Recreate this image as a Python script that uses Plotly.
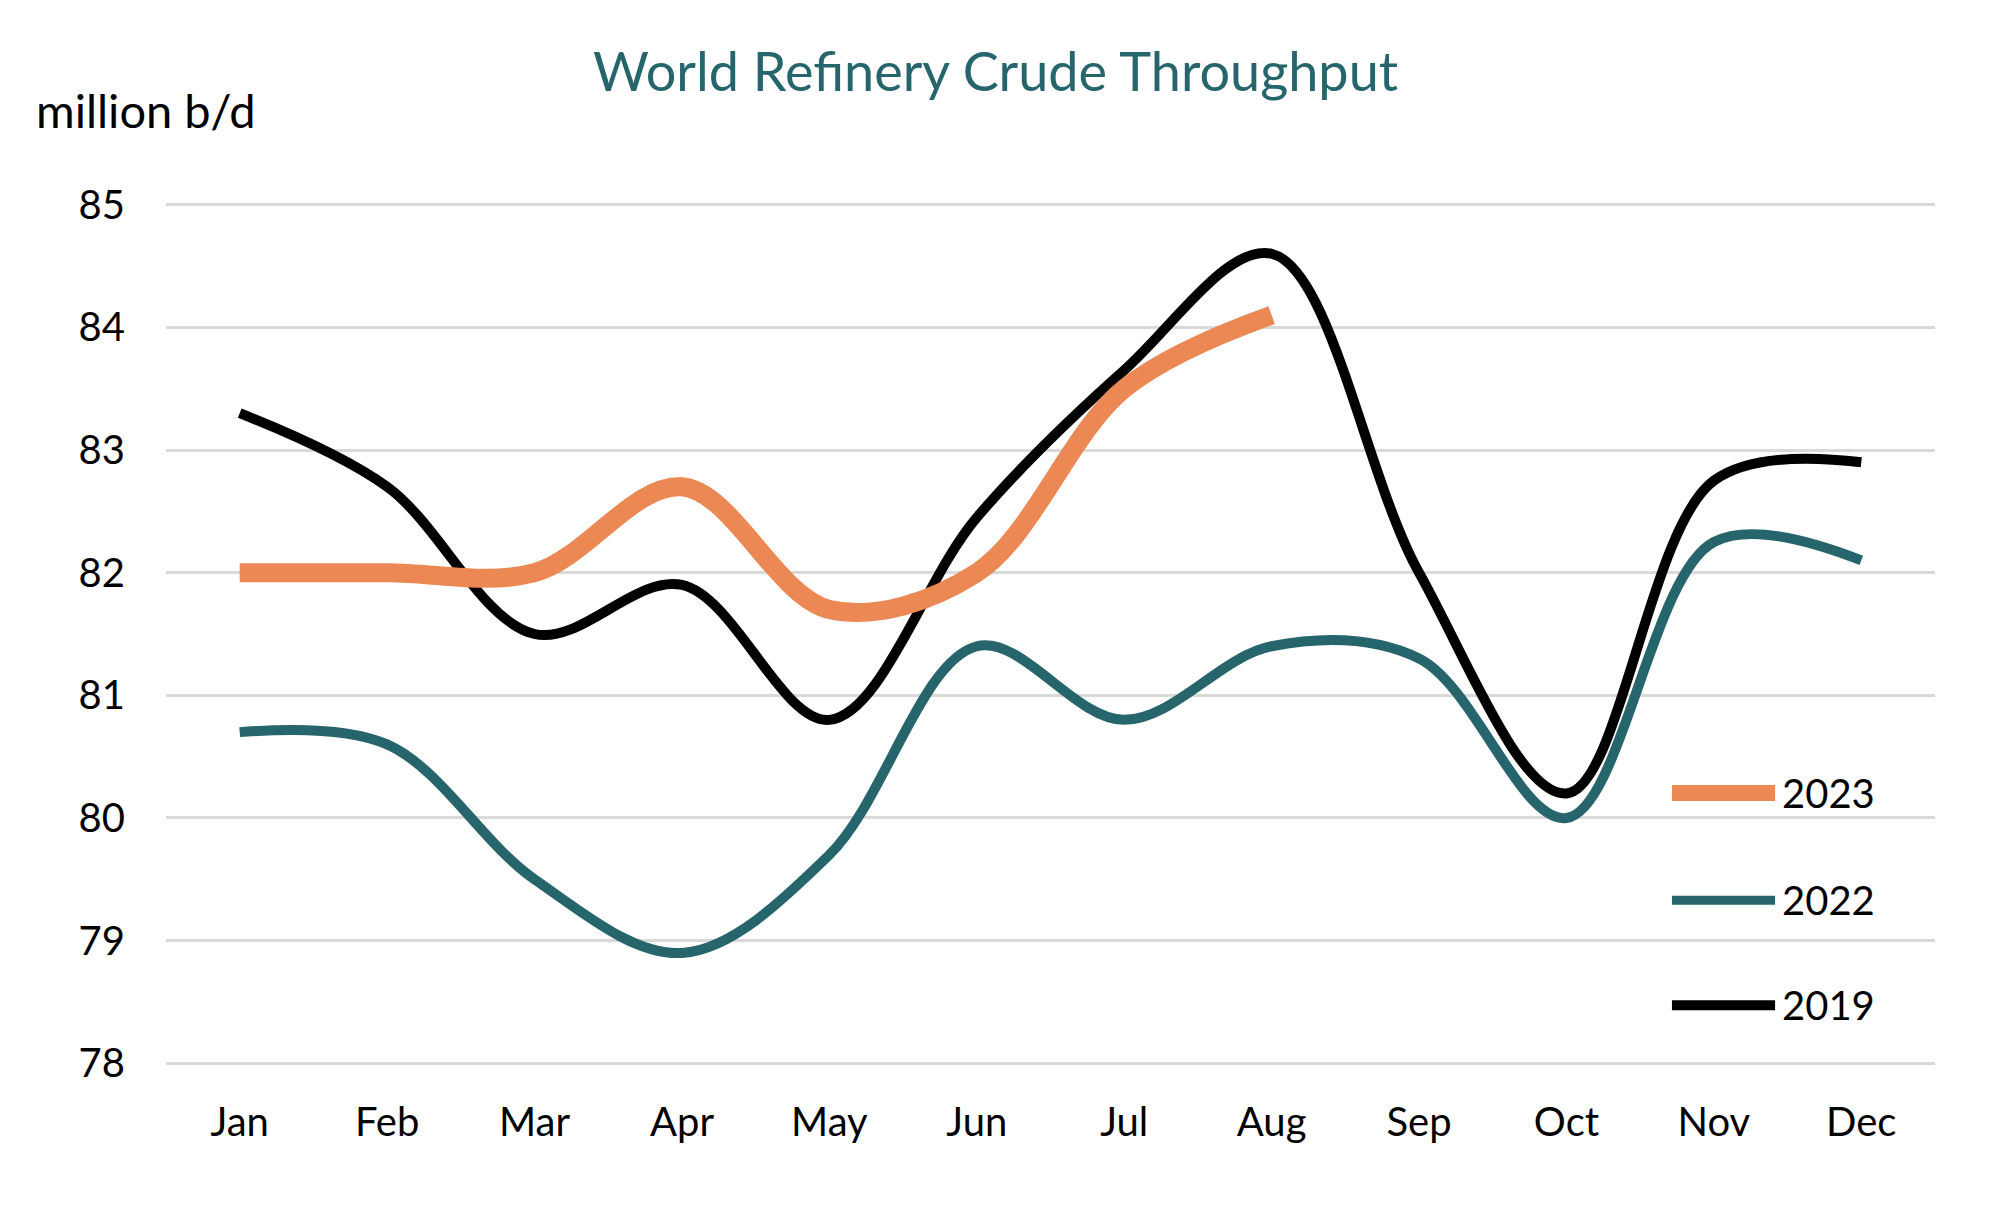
import plotly.graph_objects as go

# data (million b/d)
months = ['Jan', 'Feb', 'Mar', 'Apr', 'May', 'Jun', 'Jul', 'Aug', 'Sep', 'Oct', 'Nov', 'Dec']
y2023 = [82.0, 82.0, 82.0, 82.7, 81.7, 82.0, 83.5, 84.1]
y2022 = [80.7, 80.6, 79.5, 78.9, 79.7, 81.4, 80.8, 81.4, 81.3, 80.0, 82.25, 82.1]
y2019 = [83.3, 82.7, 81.5, 81.9, 80.8, 82.45, 83.65, 84.6, 82.0, 80.2, 82.75, 82.9]

teal = '#26656b'
orange = '#eb8854'
font = 'Lato'

series = [
    ('2023', y2023, orange, 19, 16),
    ('2022', y2022, teal, 10, 9),
    ('2019', y2019, '#000000', 10, 10),
]

fig = go.Figure()

# draw 2019 first so 2023 sits on top like the original
for name, vals, color, w, _ in reversed(series):
    fig.add_trace(go.Scatter(
        x=months[:len(vals)], y=vals, name=name, mode='lines',
        line=dict(color=color, width=w, shape='spline', smoothing=1),
        showlegend=False,
    ))

# legend drawn by hand (long line samples on the right)
legend_y = [0.3163, 0.1926, 0.0713]
for (name, vals, color, w, lw), ly in zip(series, legend_y):
    fig.add_shape(type='line', xref='paper', yref='paper',
                  x0=0.8513, x1=0.9096, y0=ly, y1=ly,
                  line=dict(color=color, width=lw))
    fig.add_annotation(text=name, xref='paper', yref='paper',
                       x=0.9124, y=ly, xanchor='left', yanchor='middle',
                       showarrow=False, font=dict(family=font, size=40, color='#000000'))

fig.add_annotation(text='million b/d', xref='paper', yref='paper',
                   x=-0.0745, y=1.1055, xanchor='left', yanchor='middle',
                   showarrow=False, font=dict(family=font, size=47, color='#000000'))

# page body has an 8px margin, so the figure is a bit smaller than the window
fig.update_layout(
    width=1975, height=1213,
    margin=dict(l=158, r=48, t=193, b=154),
    paper_bgcolor='white', plot_bgcolor='white',
    title=dict(text='World Refinery Crude Throughput', x=0.5, xref='container',
               y=0.9468, yref='container', yanchor='middle', xanchor='center',
               font=dict(family=font, size=54, color=teal)),
    font=dict(family=font, size=40, color='#000000'),
)

fig.update_xaxes(type='category', range=[-0.5, 11.5], showgrid=False,
                 showline=False, zeroline=False, ticks='',
                 ticklabelstandoff=28, tickfont=dict(size=40))
# range padded a little so the 78 and 85 gridlines are still drawn
fig.update_yaxes(range=[77.97, 85.03], dtick=1, tick0=78, showgrid=True,
                 gridcolor='#d9d9d9', gridwidth=2.5, zeroline=False,
                 showline=False, ticks='', ticklabelstandoff=40,
                 tickfont=dict(size=40))

fig.write_html('out.html')
